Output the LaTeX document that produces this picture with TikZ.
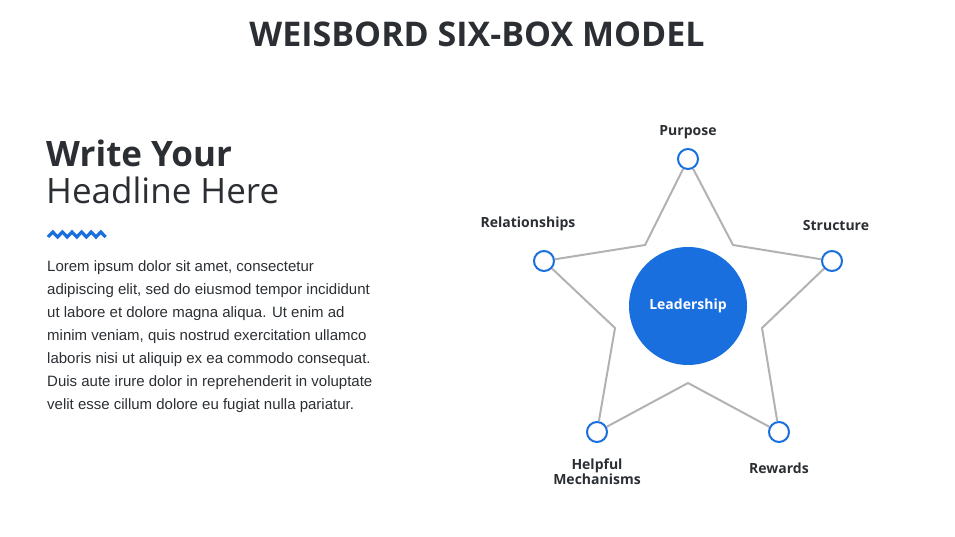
\documentclass[tikz,border=0pt]{standalone}
\usepackage{fontspec}
\setmainfont{Open Sans}
\newfontfamily\bodyfont{Liberation Sans}
\usetikzlibrary{positioning}
\definecolor{starblue}{HTML}{1A6FDF}
\definecolor{dark}{HTML}{2B2F33}
\tikzset{
  point/.style={circle, draw=starblue, fill=white, line width=2pt, minimum size=20pt, inner sep=0pt},
  label/.style={font=\bfseries\fontsize{14}{15}\selectfont, text=dark, align=center},
  edge/.style={draw=black!30, line width=2pt}
}
\begin{document}
\begin{tikzpicture}[x=1pt,y=-1pt]
  \useasboundingbox (0,0) rectangle (955,537);
  \node (title) [font=\bfseries\fontsize{34}{36}\selectfont, text=dark] at (477,34) {WEISBORD SIX-BOX MODEL};

  % left column
  \node (head) [anchor=north west, align=left, text=dark, inner sep=0pt, font=\fontsize{35}{37}\selectfont] at (46,140) {\textbf{Write Your}\\Headline Here};
  \draw[starblue, line width=3.2pt] (48,237) \foreach \i in {0,...,5} {-- ++(4.8,-5) -- ++(4.8,5)};
  \node (body) [anchor=north west, align=left, text=dark, inner sep=0pt, font=\bodyfont\fontsize{15}{23}\selectfont] at (47,260) {Lorem ipsum dolor sit amet, consectetur\\adipiscing elit, sed do eiusmod tempor incididunt\\ut labore et dolore magna aliqua. Ut enim ad\\minim veniam, quis nostrud exercitation ullamco\\laboris nisi ut aliquip ex ea commodo consequat.\\Duis aute irure dolor in reprehenderit in voluptate\\velit esse cillum dolore eu fugiat nulla pariatur.};

  % star
  \coordinate (i1) at (733,245);
  \coordinate (i2) at (762,328);
  \coordinate (i3) at (688,383);
  \coordinate (i4) at (615,328);
  \coordinate (i5) at (645,245);
  \node (purpose) [point] at (688,159) {};
  \node (structure) [point] at (832,261) {};
  \node (rewards) [point] at (779,432) {};
  \node (helpful) [point] at (597,432) {};
  \node (relations) [point] at (544,261) {};
  \draw[edge] (purpose) -- (i1) -- (structure) -- (i2) -- (rewards) -- (i3) -- (helpful) -- (i4) -- (relations) -- (i5) -- (purpose);

  \node (lead) [circle, fill=starblue, minimum size=118pt, text=white, font=\bfseries\fontsize{14}{15}\selectfont] at (688,306) {Leadership};

  \node [label, above=6pt of purpose] {Purpose};
  \node [label, above=16pt of structure, xshift=4pt] {Structure};
  \node [label, below=16pt of rewards] {Rewards};
  \node [label, below=12pt of helpful] {Helpful\\Mechanisms};
  \node [label, above=16pt of relations, xshift=-16pt] {Relationships};
\end{tikzpicture}
\end{document}
